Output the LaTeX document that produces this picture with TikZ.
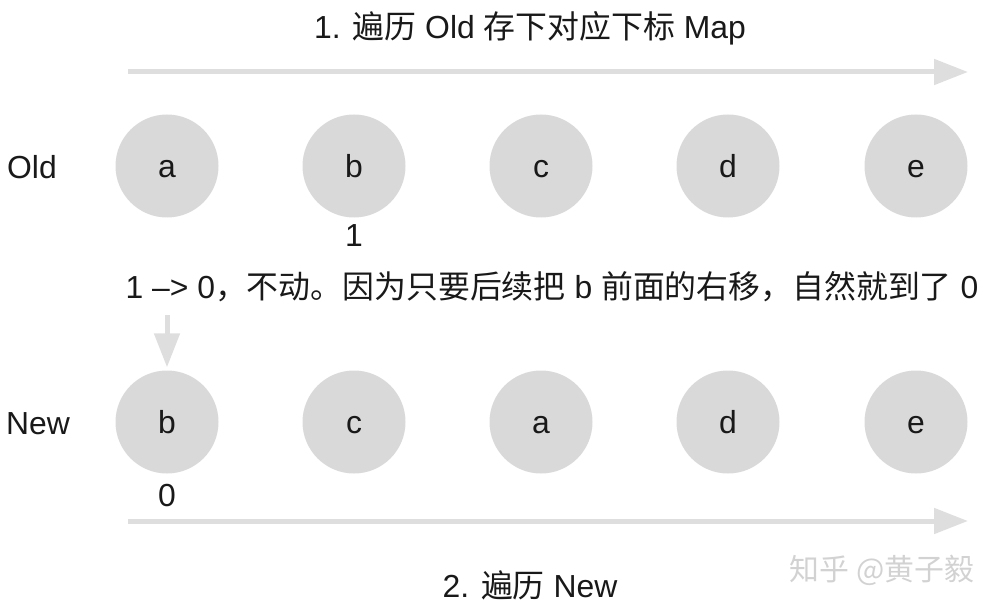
\documentclass[tikz,border=0pt]{standalone}
\usepackage{fontspec}
\setmainfont{Liberation Sans}
\newfontfamily\zhfont{Noto Sans CJK SC}
\newcommand{\zh}[1]{{\zhfont #1}}
\usetikzlibrary{arrows.meta}

\begin{document}
\begin{tikzpicture}[x=1bp,y=-1bp,
  txt/.style={font=\fontsize{32}{38}\selectfont, text=black!90, anchor=base},
  elem/.style={circle, fill=gray!30, minimum size=103bp, inner sep=0pt,
    text height=23bp, text depth=0pt,
    font=\fontsize{32}{38}\selectfont, text=black!90},
  flow/.style={line width=5bp, draw=gray!26,
    -{Triangle[length=34bp,width=25bp]}},
]
\useasboundingbox (0,0) rectangle (1002,610);

% Title
\node[txt] (title) at (530,39) {1. \zh{遍历} Old \zh{存下对应下标} Map};

% Edge: top arrow
\coordinate (topstart) at (128,72);
\coordinate (topend) at (968,72);
\draw[flow] (topstart) -- (topend);

% Row: Old
\node[txt] (oldlabel) at (32,179) {Old};
\node[elem] (olda) at (167,166) {a};
\node[elem] (oldb) at (354,166) {b};
\node[elem] (oldc) at (541,166) {c};
\node[elem] (oldd) at (728,166) {d};
\node[elem] (olde) at (916,166) {e};
\node[txt] (oldidx) at (354,247) {1};

% Note
\node[txt] (note) at (552,299) {1 –> 0\zh{，不动。因为只要后续把} b \zh{前面的右移，自然就到了} 0};

% Edge: hint -> newb
\coordinate (hint) at (167,315);

% Row: New
\node[txt] (newlabel) at (38,434) {New};
\node[elem] (newb) at (167,422) {b};
\node[elem] (newc) at (354,422) {c};
\node[elem] (newa) at (541,422) {a};
\node[elem] (newd) at (728,422) {d};
\node[elem] (newe) at (916,422) {e};
\node[txt] (newidx) at (167,506) {0};

\draw[flow] (hint) -- ([yshift=3bp]newb.north);

% Edge: bottom arrow
\coordinate (botstart) at (128,521);
\coordinate (botend) at (968,521);
\draw[flow] (botstart) -- (botend);

% Bottom title
\node[txt] (subtitle) at (530,597) {2. \zh{遍历} New};

% Watermark
\node[font=\fontsize{30}{34}\selectfont, text=gray!35, anchor=base] (mark) at (882,580) {\zh{知乎 @黄子毅}};

\end{tikzpicture}
\end{document}
